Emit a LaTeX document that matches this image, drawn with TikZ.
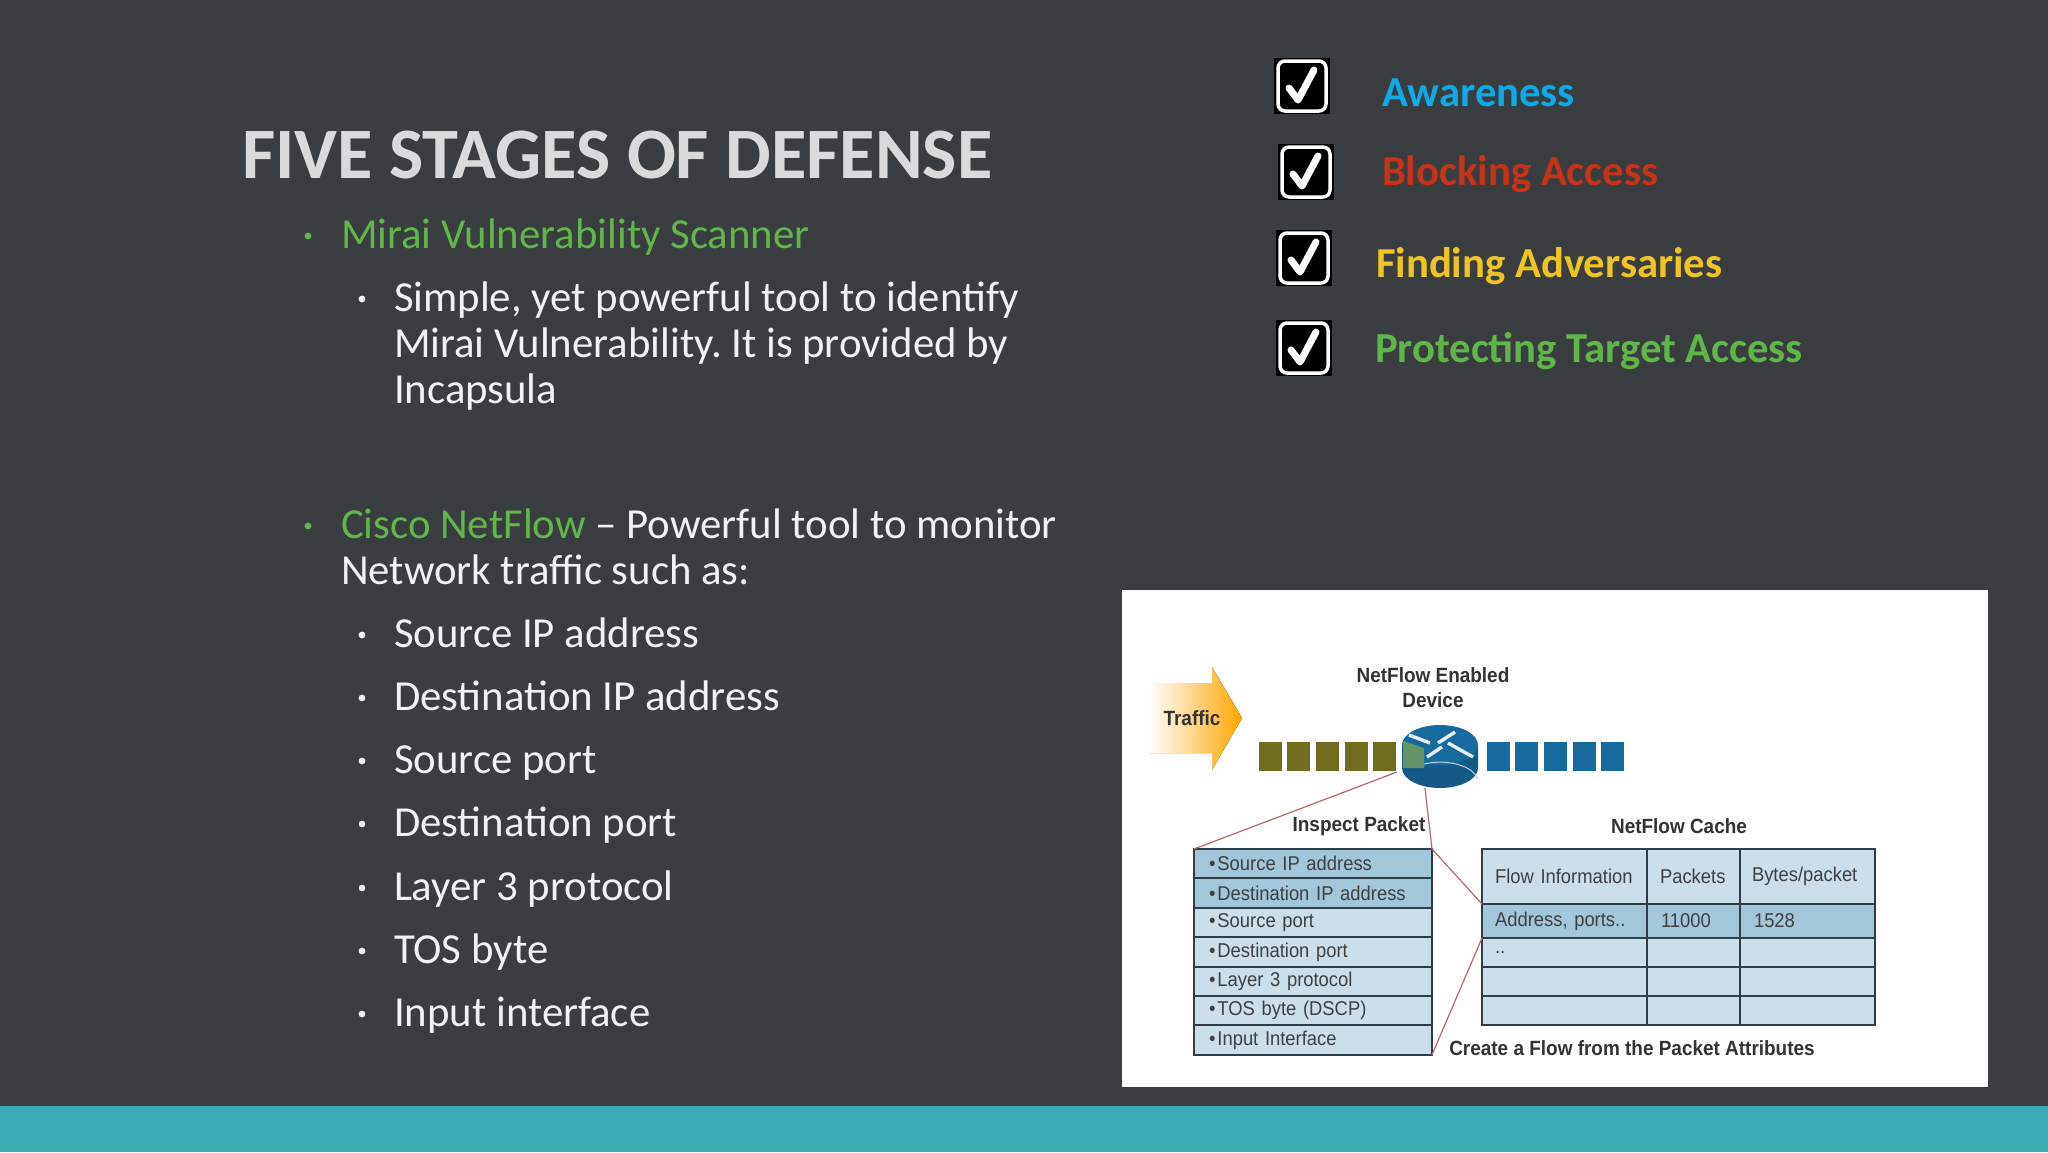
\documentclass[tikz,border=0pt]{standalone}
\usepackage{xcolor}
\usepackage{fontspec}
\setmainfont{Carlito}
\newfontfamily\figfont[FakeStretch=0.92]{Liberation Sans}
\usepackage{tikz}
\usetikzlibrary{positioning,calc}
\definecolor{slide}{HTML}{3A3E40}
\definecolor{band}{HTML}{3CADB4}
\definecolor{leaf}{HTML}{62B54A}
\definecolor{sky}{HTML}{0FA9E6}
\definecolor{brick}{HTML}{C5331A}
\definecolor{gold}{HTML}{EFC526}
\definecolor{body}{HTML}{F2F2F2}
\definecolor{rowlight}{HTML}{CBDEEA}
\definecolor{rowdark}{HTML}{A3C6D9}
\definecolor{gridline}{HTML}{2E3D46}
\definecolor{olive}{HTML}{6F6C1E}
\definecolor{netblue}{HTML}{176A9E}
\definecolor{pinkline}{HTML}{B5696B}
\newcommand\fieldmark{\textbullet\kern2pt}
\frenchspacing

\begin{document}
\begin{tikzpicture}[
    x=1pt, y=-1pt,
    node distance=0pt,
    every node/.style={inner sep=0pt, outer sep=0pt},
    headline/.style={anchor=base west, text=body!90!black, font=\fontsize{72.4}{72.4}\selectfont\bfseries},
    lead/.style={anchor=base west, text=leaf, font=\fontsize{42.8}{46}\selectfont},
    item/.style={anchor=base west, text=body, font=\fontsize{42.8}{46}\selectfont},
    para/.style={anchor=north west, align=left, text=body, font=\fontsize{42.8}{46}\selectfont},
    stage/.style={anchor=base west, font=\fontsize{42.7}{42.7}\selectfont\bfseries},
    figlabel/.style={text=black!80, font=\figfont\fontsize{20.6}{25}\selectfont\bfseries, align=center},
    cell/.style={text=black!75, font=\figfont\fontsize{20}{20}\selectfont},
    pktrow/.style={cell, rectangle, draw=gridline, line width=2pt, fill=rowlight, minimum width=238pt, minimum height=29.4pt, text width=208pt, inner xsep=15pt, align=left},
    cachecell/.style={cell, rectangle, draw=gridline, line width=2pt, fill=rowlight, minimum height=#1, anchor=north west, align=left},
    packet/.style={rectangle, minimum width=23pt, minimum height=29pt},
    tie/.style={draw=pinkline, line width=1.2pt}
]
% slide
\fill[slide] (0,0) rectangle (2048,1152);
\fill[band] (0,1106) rectangle (2048,1152);

% left column
\node[headline] (title) at (242,178) {FIVE STAGES OF DEFENSE};
\node[lead] (mirai) at (341,248) {Mirai Vulnerability Scanner};
\node[para] (simple) at (394,282) {Simple, yet powerful tool to identify\\Mirai Vulnerability. It is provided by\\Incapsula};
\node[item] (cisco) at (341,538) {\textcolor{leaf}{Cisco NetFlow} -- Powerful tool to monitor};
\node[item] (network) at (341,584) {Network traffic such as:};
\foreach \name/\ypos/\txt in {i1/647/Source IP address, i2/710/Destination IP address, i3/773/Source port,
    i4/836/Destination port, i5/900/Layer 3 protocol, i6/963/TOS byte, i7/1026/Input interface}
    \node[item] (\name) at (394,\ypos) {\txt};
\foreach \ypos in {311,647,710,773,836,900,963,1026}
    \fill[body] (362,\ypos-12) circle (3.4);
\foreach \ypos in {248,538}
    \fill[leaf] (308,\ypos-12) circle (3.4);

% check boxes
\foreach \xpos/\ypos in {1302/86,1306/172,1304/258,1304/348} {
    \fill[black] (\xpos-28,\ypos-28) rectangle (\xpos+28,\ypos+28);
    \draw[white, line width=3.5pt, rounded corners=7pt] (\xpos-24,\ypos-25) rectangle (\xpos+24,\ypos+25);
    \draw[white, line width=7pt, line cap=round, line join=round] (\xpos-13,\ypos+2) -- (\xpos-4,\ypos+14) -- (\xpos+12,\ypos-16);
}
\node[stage, text=sky] (awareness) at (1382,106) {Awareness};
\node[stage, text=brick] (blocking) at (1382,185) {Blocking Access};
\node[stage, text=gold] (finding) at (1376,277) {Finding Adversaries};
\node[stage, text=leaf] (protecting) at (1375,362) {Protecting Target Access};

% netflow figure
\fill[white!98!pink] (1122,590) rectangle (1988,1087);
\fill[left color=white!98!pink, right color=orange!70!yellow, draw=none]
    (1150,683) -- (1212,683) -- (1212,667) -- (1242,718) -- (1212,770) -- (1212,753) -- (1150,753) -- cycle;
\node[figlabel] (traffic) at (1192,718) {Traffic};
\node[figlabel] (device) at (1433,688) {NetFlow Enabled\\Device};

\node[packet, fill=olive] (o1) at (1270,756) {};
\foreach \i/\j in {1/2,2/3,3/4,4/5}
    \node[packet, fill=olive, right=5.7pt of o\i] (o\j) {};
\node[packet, fill=netblue] (b1) at (1498,756) {};
\foreach \i/\j in {1/2,2/3,3/4,4/5}
    \node[packet, fill=netblue, right=5.7pt of b\i] (b\j) {};

% router
\coordinate (routerleft) at (1397,772);
\coordinate (routerfoot) at (1425,788);
\fill[netblue!85!black] (1402,745) -- (1402,768) arc[start angle=180, end angle=0, x radius=38, y radius=20] -- (1478,745) -- cycle;
\fill[netblue] (1440,745) ellipse[x radius=38, y radius=20];
\draw[white!70!netblue, line width=1pt] (1424,764) arc[start angle=115, end angle=10, x radius=38, y radius=-20];
\fill[black!10!green!20!gray] (1403,741) -- (1424,748) -- (1424,768) -- (1403,768) -- cycle;
\foreach \a/\b/\c/\d in {1409/735/1430/743, 1455/732/1438/743, 1427/757/1442/747, 1473/757/1448/743}
    \draw[white!90!netblue, line width=3.4pt] (\a,\b) -- (\c,\d);

% packet fields
\node[figlabel] (inspect) at (1359,826) {Inspect Packet};
\node[figlabel] (cache) at (1679,826) {NetFlow Cache};
\node[pktrow, fill=rowdark] (p1) at (1313,863.7) {\fieldmark Source IP address};
\node[pktrow, fill=rowdark, below=of p1] (p2) {\fieldmark Destination IP address};
\node[pktrow, below=of p2] (p3) {\fieldmark Source port};
\node[pktrow, below=of p3] (p4) {\fieldmark Destination port};
\node[pktrow, below=of p4] (p5) {\fieldmark Layer 3 protocol};
\node[pktrow, below=of p5] (p6) {\fieldmark TOS byte (DSCP)};
\node[pktrow, below=of p6] (p7) {\fieldmark Input Interface};

% cache table
\node[cachecell=55pt, minimum width=165pt, text width=139pt, inner xsep=13pt] (h1) at (1482,849) {\mbox{Flow Information}};
\node[cachecell=55pt, minimum width=93pt, text width=67pt, inner xsep=13pt] (h2) at (h1.north east) {Packets};
\node[cachecell=55pt, minimum width=135pt, text width=111pt, inner xsep=12pt] (h3) at (h2.north east) {\mbox{Bytes/packet}};
\node[cachecell=34pt, fill=rowdark, minimum width=165pt, text width=139pt, inner xsep=13pt] (a1) at (h1.south west) {\mbox{Address, ports..}};
\node[cachecell=34pt, fill=rowdark, minimum width=93pt, text width=65pt, inner xsep=14pt] (a2) at (h2.south west) {11000};
\node[cachecell=34pt, fill=rowdark, minimum width=135pt, text width=107pt, inner xsep=14pt] (a3) at (h3.south west) {1528};
\node[cachecell=29pt, minimum width=165pt, text width=139pt, inner xsep=13pt] (c1) at (a1.south west) {..};
\node[cachecell=29pt, minimum width=93pt] (c2) at (a2.south west) {};
\node[cachecell=29pt, minimum width=135pt] (c3) at (a3.south west) {};
\foreach \up/\down in {c/d,d/e} {
    \node[cachecell=29pt, minimum width=165pt] (\down1) at (\up1.south west) {};
    \node[cachecell=29pt, minimum width=93pt] (\down2) at (\up2.south west) {};
    \node[cachecell=29pt, minimum width=135pt] (\down3) at (\up3.south west) {};
}
\node[figlabel] (create) at (1632,1048) {Create a Flow from the Packet Attributes};

\draw[tie] (routerleft) -- (p1.north west);
\draw[tie] (routerfoot) -- (p1.north east);
\draw[tie] (p1.north east) -- (a1.north west);
\draw[tie] (p7.south east) -- (a1.south west);
\end{tikzpicture}
\end{document}
